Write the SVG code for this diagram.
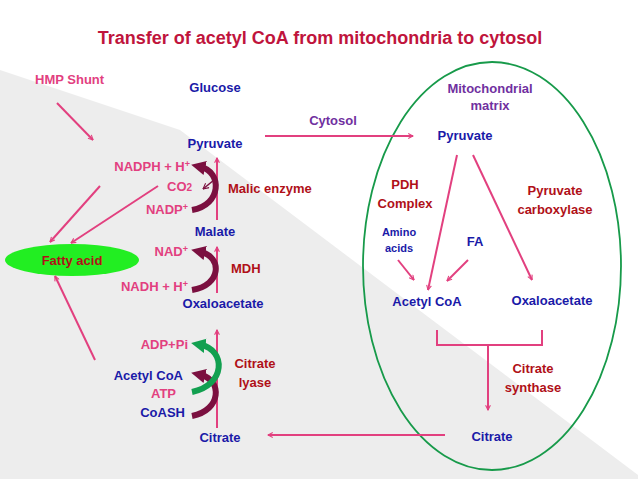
<svg xmlns="http://www.w3.org/2000/svg" width="638" height="479" viewBox="0 0 638 479">
<defs>
<marker id="ah" viewBox="0 0 10 10" refX="9" refY="5" markerWidth="6" markerHeight="6" orient="auto-start-reverse" markerUnits="userSpaceOnUse"><path d="M1,1 L9,5 L1,9" fill="none" stroke="#e2407f" stroke-width="1.8"/></marker>
<marker id="ahm" viewBox="0 0 10 10" refX="3" refY="5" markerWidth="2.4" markerHeight="2.6" orient="auto"><path d="M0,0 L10,5 L0,10 z" fill="#7b1040"/></marker>
<marker id="ahg" viewBox="0 0 10 10" refX="3" refY="5" markerWidth="2.4" markerHeight="2.6" orient="auto"><path d="M0,0 L10,5 L0,10 z" fill="#12a050"/></marker>
<marker id="ahs" viewBox="0 0 10 10" refX="9" refY="5" markerWidth="7" markerHeight="7" orient="auto" markerUnits="userSpaceOnUse"><path d="M1,1 L9,5 L1,9" fill="none" stroke="#7b1040" stroke-width="1.5"/></marker>
</defs>
<style>
text{font-family:"Liberation Sans","DejaVu Sans",sans-serif;font-weight:bold;font-size:13px}
.b{fill:#1a1aa8}.m{fill:#e2407f}.r{fill:#b01018}.p{fill:#7030a0}
.a{stroke:#e2407f;stroke-width:2;fill:none;marker-end:url(#ah)}
.l{stroke:#e2407f;stroke-width:2;fill:none}
.cm{stroke:#7b1040;stroke-width:6;fill:none;marker-end:url(#ahm)}
.cg{stroke:#12a050;stroke-width:6;fill:none;marker-end:url(#ahg)}
</style>
<rect width="638" height="479" fill="#ffffff"/>
<polygon points="0,70 180,130 638,475 638,479 0,479" fill="#ededed"/>
<text x="320" y="44" text-anchor="middle" style="font-size:18px;fill:#c0143c">Transfer of acetyl CoA from mitochondria to cytosol</text>
<g id="mito"><ellipse cx="492" cy="266" rx="129" ry="204" fill="none" stroke="#179a4a" stroke-width="1.8"/>
<text x="490" y="93" text-anchor="middle" class="p">Mitochondrial</text><text x="490" y="110" text-anchor="middle" class="p">matrix</text></g>
<g id="fatty"><ellipse cx="72" cy="260" rx="67" ry="16" fill="#22ee22"/><text x="72" y="265" text-anchor="middle" class="r">Fatty acid</text></g>
<g id="labels-left">
<text x="35" y="84" class="m">HMP Shunt</text>
<text x="215" y="92" text-anchor="middle" class="b">Glucose</text>
<text x="215" y="148" text-anchor="middle" class="b">Pyruvate</text>
<text x="333" y="125" text-anchor="middle" class="p">Cytosol</text>
<text x="190" y="171" text-anchor="end" class="m">NADPH + H<tspan dy="-4" style="font-size:9px">+</tspan></text>
<text x="167" y="191" class="m">CO<tspan style="font-size:10px">2</tspan></text>
<text x="188" y="214" text-anchor="end" class="m">NADP<tspan dy="-4" style="font-size:9px">+</tspan></text>
<text x="228" y="193" class="r">Malic enzyme</text>
<text x="215" y="236" text-anchor="middle" class="b">Malate</text>
<text x="188" y="256" text-anchor="end" class="m">NAD<tspan dy="-4" style="font-size:9px">+</tspan></text>
<text x="231" y="273" class="r">MDH</text>
<text x="188" y="291" text-anchor="end" class="m">NADH + H<tspan dy="-4" style="font-size:9px">+</tspan></text>
<text x="223" y="308" text-anchor="middle" class="b">Oxaloacetate</text>
<text x="188" y="349" text-anchor="end" class="m">ADP+Pi</text>
<text x="255" y="368" text-anchor="middle" class="r">Citrate</text><text x="255" y="387" text-anchor="middle" class="r">lyase</text>
<text x="183" y="380" text-anchor="end" class="b">Acetyl CoA</text>
<text x="176" y="398" text-anchor="end" class="m">ATP</text>
<text x="185" y="417" text-anchor="end" class="b">CoASH</text>
<text x="220" y="442" text-anchor="middle" class="b">Citrate</text>
</g>
<g id="labels-right">
<text x="465" y="140" text-anchor="middle" class="b">Pyruvate</text>
<text x="405" y="189" text-anchor="middle" class="r">PDH</text><text x="405" y="208" text-anchor="middle" class="r">Complex</text>
<text x="555" y="195" text-anchor="middle" class="r">Pyruvate</text><text x="555" y="214" text-anchor="middle" class="r">carboxylase</text>
<text x="399" y="236" text-anchor="middle" class="b" style="font-size:11px">Amino</text><text x="399" y="252" text-anchor="middle" class="b" style="font-size:11px">acids</text>
<text x="475" y="246" text-anchor="middle" class="b">FA</text>
<text x="427" y="306" text-anchor="middle" class="b">Acetyl CoA</text>
<text x="552" y="305" text-anchor="middle" class="b">Oxaloacetate</text>
<text x="533" y="373" text-anchor="middle" class="r">Citrate</text><text x="533" y="392" text-anchor="middle" class="r">synthase</text>
<text x="492" y="441" text-anchor="middle" class="b">Citrate</text>
</g>
<g id="connectors">
<path class="a" d="M265,136 L413,136"/>
<path class="a" d="M217,220 L217,158"/>
<path class="a" d="M217,293 L217,247"/>
<path class="a" d="M217,428 L217,330"/>
<path class="a" d="M57,103 L93,140"/>
<path class="a" d="M100,186 L50,242"/>
<path class="a" d="M158,186 L71,243"/>
<path class="a" d="M95,360 L55,276"/>
<path class="a" d="M457,155 L428,290"/>
<path class="a" d="M473,155 L532,280"/>
<path class="a" d="M398,260 L414,280"/>
<path class="a" d="M468,260 L447,281"/>
<path class="l" d="M437,330 V345 H542 V330"/>
<path class="a" d="M488,345 L488,410"/>
<path class="a" d="M445,435 L268,435"/>
<path class="cm" d="M192,210 C222,205 222,172 201,167"/>
<path stroke="#7b1040" stroke-width="1.5" fill="none" marker-end="url(#ahs)" d="M214,180 L203,189"/>
<path class="cm" d="M192,290 C222,285 222,257 201,252"/>
<path class="cm" d="M192,416 C222,410 222,380 201,375"/>
<path class="cg" d="M192,392 C226,385 226,350 201,345"/>
</g>
</svg>
